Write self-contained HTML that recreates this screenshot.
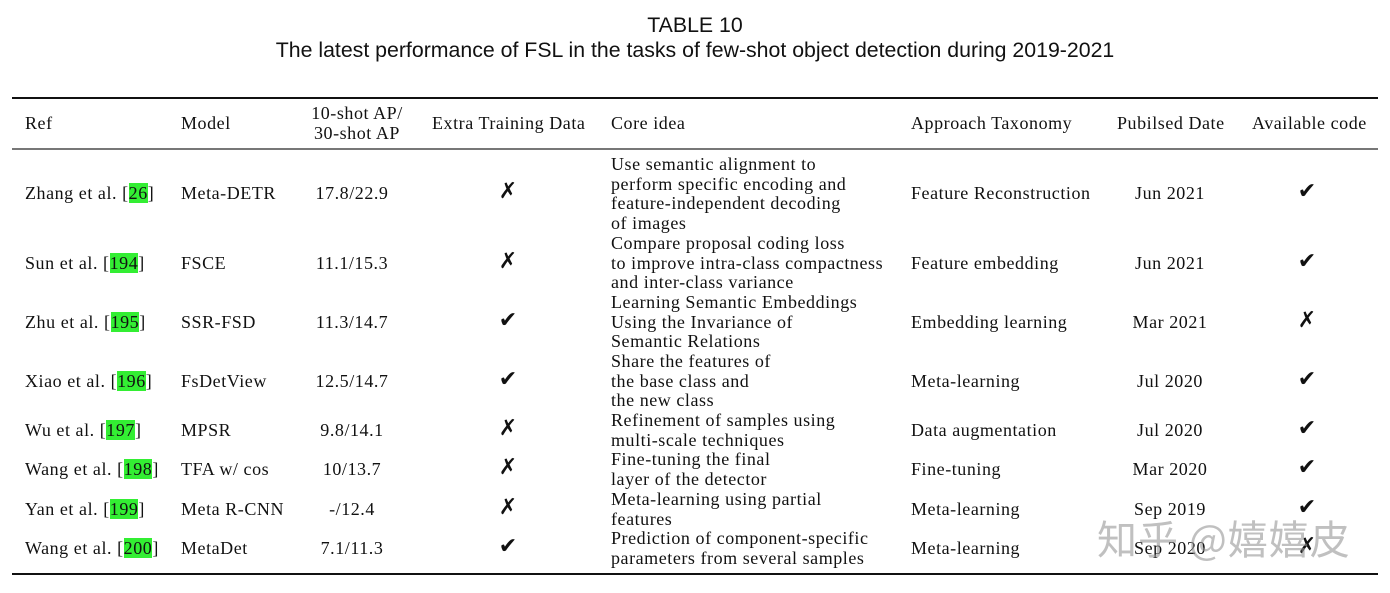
<!DOCTYPE html>
<html><head><meta charset="utf-8"><style>
html,body{margin:0;padding:0;background:#fff;}
body{width:1390px;height:593px;position:relative;overflow:hidden;font-family:"Liberation Serif",serif;color:#111;}
.t{position:absolute;font-family:"Liberation Sans",sans-serif;font-size:21.3px;width:1390px;text-align:center;left:0;}
.c{position:absolute;font-size:18px;line-height:19.7px;white-space:nowrap;letter-spacing:0.55px;}
.m{transform:translateX(-50%);text-align:center;}
.g{background:#33ee33;}
.ln{position:absolute;left:12px;width:1366px;}
.ck{font-size:22px;letter-spacing:0;}
.wm{position:absolute;left:1097px;top:508px;font-family:"Noto Sans CJK SC",sans-serif;font-size:40px;color:rgba(150,150,150,0.6);white-space:nowrap;letter-spacing:1px;}
</style></head><body>
<div class="t" style="top:13px">TABLE 10</div>
<div class="t" style="top:38px">The latest performance of FSL in the tasks of few-shot object detection during 2019-2021</div>
<div class="ln" style="top:97px;height:2px;background:#111"></div>
<div class="ln" style="top:148px;height:2px;background:#777"></div>
<div class="ln" style="top:573px;height:2px;background:#111"></div>

<div class="c" style="left:25px;top:114px">Ref</div>
<div class="c" style="left:181px;top:114px">Model</div>
<div class="c m" style="left:357px;top:104px">10-shot AP/<br>30-shot AP</div>
<div class="c" style="left:432px;top:114px">Extra Training Data</div>
<div class="c" style="left:611px;top:114px">Core idea</div>
<div class="c" style="left:911px;top:114px">Approach Taxonomy</div>
<div class="c" style="left:1117px;top:114px">Pubilsed Date</div>
<div class="c" style="left:1252px;top:114px">Available code</div>

<div class="c" style="left:25px;top:184px">Zhang et al. [<span class="g">26</span>]</div>
<div class="c" style="left:181px;top:184px">Meta-DETR</div>
<div class="c m" style="left:352px;top:184px">17.8/22.9</div>
<div class="c m ck" style="left:508px;top:181px">✗</div>
<div class="c" style="left:611px;top:155px">Use semantic alignment to<br>perform specific encoding and<br>feature-independent decoding<br>of images</div>
<div class="c" style="left:911px;top:184px">Feature Reconstruction</div>
<div class="c m" style="left:1170px;top:184px">Jun 2021</div>
<div class="c m ck" style="left:1307px;top:181px">✔</div>

<div class="c" style="left:25px;top:254px">Sun et al. [<span class="g">194</span>]</div>
<div class="c" style="left:181px;top:254px">FSCE</div>
<div class="c m" style="left:352px;top:254px">11.1/15.3</div>
<div class="c m ck" style="left:508px;top:251px">✗</div>
<div class="c" style="left:611px;top:234px">Compare proposal coding loss<br>to improve intra-class compactness<br>and inter-class variance</div>
<div class="c" style="left:911px;top:254px">Feature embedding</div>
<div class="c m" style="left:1170px;top:254px">Jun 2021</div>
<div class="c m ck" style="left:1307px;top:251px">✔</div>

<div class="c" style="left:25px;top:313px">Zhu et al. [<span class="g">195</span>]</div>
<div class="c" style="left:181px;top:313px">SSR-FSD</div>
<div class="c m" style="left:352px;top:313px">11.3/14.7</div>
<div class="c m ck" style="left:508px;top:310px">✔</div>
<div class="c" style="left:611px;top:293px">Learning Semantic Embeddings<br>Using the Invariance of<br>Semantic Relations</div>
<div class="c" style="left:911px;top:313px">Embedding learning</div>
<div class="c m" style="left:1170px;top:313px">Mar 2021</div>
<div class="c m ck" style="left:1307px;top:310px">✗</div>

<div class="c" style="left:25px;top:372px">Xiao et al. [<span class="g">196</span>]</div>
<div class="c" style="left:181px;top:372px">FsDetView</div>
<div class="c m" style="left:352px;top:372px">12.5/14.7</div>
<div class="c m ck" style="left:508px;top:369px">✔</div>
<div class="c" style="left:611px;top:352px">Share the features of<br>the base class and<br>the new class</div>
<div class="c" style="left:911px;top:372px">Meta-learning</div>
<div class="c m" style="left:1170px;top:372px">Jul 2020</div>
<div class="c m ck" style="left:1307px;top:369px">✔</div>

<div class="c" style="left:25px;top:421px">Wu et al. [<span class="g">197</span>]</div>
<div class="c" style="left:181px;top:421px">MPSR</div>
<div class="c m" style="left:352px;top:421px">9.8/14.1</div>
<div class="c m ck" style="left:508px;top:418px">✗</div>
<div class="c" style="left:611px;top:411px">Refinement of samples using<br>multi-scale techniques</div>
<div class="c" style="left:911px;top:421px">Data augmentation</div>
<div class="c m" style="left:1170px;top:421px">Jul 2020</div>
<div class="c m ck" style="left:1307px;top:418px">✔</div>

<div class="c" style="left:25px;top:460px">Wang et al. [<span class="g">198</span>]</div>
<div class="c" style="left:181px;top:460px">TFA w/ cos</div>
<div class="c m" style="left:352px;top:460px">10/13.7</div>
<div class="c m ck" style="left:508px;top:457px">✗</div>
<div class="c" style="left:611px;top:450px">Fine-tuning the final<br>layer of the detector</div>
<div class="c" style="left:911px;top:460px">Fine-tuning</div>
<div class="c m" style="left:1170px;top:460px">Mar 2020</div>
<div class="c m ck" style="left:1307px;top:457px">✔</div>

<div class="c" style="left:25px;top:500px">Yan et al. [<span class="g">199</span>]</div>
<div class="c" style="left:181px;top:500px">Meta R-CNN</div>
<div class="c m" style="left:352px;top:500px">-/12.4</div>
<div class="c m ck" style="left:508px;top:497px">✗</div>
<div class="c" style="left:611px;top:490px">Meta-learning using partial<br>features</div>
<div class="c" style="left:911px;top:500px">Meta-learning</div>
<div class="c m" style="left:1170px;top:500px">Sep 2019</div>
<div class="c m ck" style="left:1307px;top:497px">✔</div>

<div class="c" style="left:25px;top:539px">Wang et al. [<span class="g">200</span>]</div>
<div class="c" style="left:181px;top:539px">MetaDet</div>
<div class="c m" style="left:352px;top:539px">7.1/11.3</div>
<div class="c m ck" style="left:508px;top:536px">✔</div>
<div class="c" style="left:611px;top:529px">Prediction of component-specific<br>parameters from several samples</div>
<div class="c" style="left:911px;top:539px">Meta-learning</div>
<div class="c m" style="left:1170px;top:539px">Sep 2020</div>
<div class="c m ck" style="left:1307px;top:536px">✗</div>

<div class="wm">知乎 @嬉嬉皮</div>
</body></html>
